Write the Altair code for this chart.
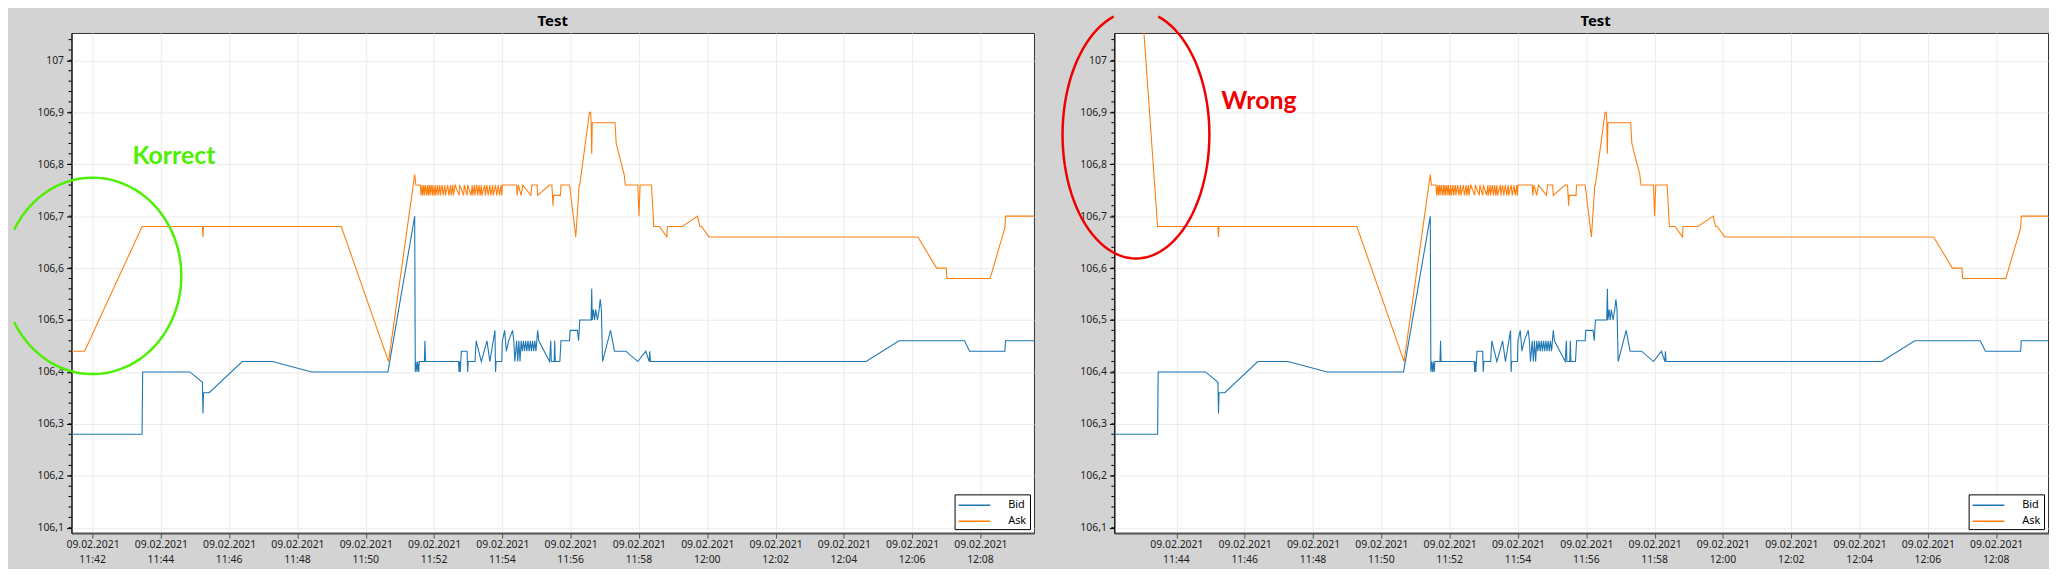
import math

import altair as alt
import pandas as pd

DAY = "2021-02-09T"

bid_time = [
    "11:41:23", "11:43:27", "11:43:28", "11:44:51", "11:45:13", "11:45:14", "11:45:15", "11:45:25",
    "11:46:23", "11:47:16", "11:48:25", "11:50:39", "11:51:26", "11:51:27", "11:51:28", "11:51:30",
    "11:51:31", "11:51:33", "11:51:34", "11:51:43", "11:51:44", "11:51:45", "11:52:43", "11:52:44",
    "11:52:45", "11:52:46", "11:52:47", "11:52:48", "11:52:58", "11:52:59", "11:53:00", "11:53:12",
    "11:53:14", "11:53:23", "11:53:33", "11:53:38", "11:53:47", "11:53:48", "11:53:49", "11:53:59",
    "11:54:00", "11:54:04", "11:54:07", "11:54:11", "11:54:18", "11:54:20", "11:54:22", "11:54:25",
    "11:54:27", "11:54:29", "11:54:31", "11:54:33", "11:54:35", "11:54:37", "11:54:39", "11:54:41",
    "11:54:43", "11:54:45", "11:54:47", "11:54:49", "11:54:51", "11:54:53", "11:54:55", "11:54:57",
    "11:54:59", "11:55:02", "11:55:04", "11:55:23", "11:55:25", "11:55:26", "11:55:31", "11:55:32",
    "11:55:33", "11:55:41", "11:55:43", "11:55:58", "11:55:59", "11:56:12", "11:56:14", "11:56:16",
    "11:56:36", "11:56:37", "11:56:38", "11:56:40", "11:56:42", "11:56:44", "11:56:47", "11:56:50",
    "11:56:52", "11:56:54", "11:56:56", "11:57:10", "11:57:17", "11:57:37", "11:57:58", "11:58:12",
    "11:58:18", "11:58:19", "11:58:20", "12:04:39", "12:05:37", "12:07:32", "12:07:41", "12:08:43",
    "12:08:44", "12:09:40",
]
bid_value = [
    106.28, 106.28, 106.40, 106.40, 106.38, 106.32, 106.36, 106.36,
    106.42, 106.42, 106.40, 106.40, 106.70, 106.40, 106.42, 106.40,
    106.42, 106.40, 106.42, 106.42, 106.46, 106.42, 106.42, 106.40,
    106.42, 106.40, 106.42, 106.44, 106.44, 106.40, 106.42, 106.42,
    106.46, 106.42, 106.46, 106.42, 106.48, 106.40, 106.42, 106.42,
    106.46, 106.48, 106.44, 106.46, 106.48, 106.46, 106.42, 106.46,
    106.42, 106.46, 106.42, 106.46, 106.44, 106.46, 106.44, 106.46,
    106.44, 106.46, 106.44, 106.46, 106.44, 106.46, 106.44, 106.46,
    106.44, 106.48, 106.46, 106.42, 106.46, 106.42, 106.42, 106.46,
    106.42, 106.42, 106.46, 106.46, 106.48, 106.48, 106.46, 106.50,
    106.50, 106.56, 106.50, 106.52, 106.50, 106.52, 106.50, 106.52,
    106.54, 106.52, 106.42, 106.48, 106.44, 106.44, 106.42, 106.44,
    106.42, 106.44, 106.42, 106.42, 106.46, 106.46, 106.44, 106.44,
    106.46, 106.46,
]

ask_time = [
    "11:41:23", "11:41:46", "11:43:27", "11:45:13", "11:45:14", "11:45:15", "11:49:17", "11:50:40",
    "11:51:26", "11:51:28", "11:51:36", "11:51:37", "11:51:39", "11:51:40", "11:51:42", "11:51:43",
    "11:51:45", "11:51:47", "11:51:49", "11:51:50", "11:51:52", "11:51:53", "11:51:55", "11:51:57",
    "11:51:58", "11:52:00", "11:52:02", "11:52:03", "11:52:06", "11:52:07", "11:52:10", "11:52:11",
    "11:52:14", "11:52:16", "11:52:19", "11:52:20", "11:52:24", "11:52:26", "11:52:29", "11:52:30",
    "11:52:33", "11:52:34", "11:52:37", "11:52:44", "11:52:45", "11:52:52", "11:52:53", "11:52:58",
    "11:52:59", "11:53:05", "11:53:07", "11:53:08", "11:53:11", "11:53:12", "11:53:15", "11:53:17",
    "11:53:19", "11:53:21", "11:53:23", "11:53:24", "11:53:29", "11:53:30", "11:53:33", "11:53:35",
    "11:53:38", "11:53:40", "11:53:43", "11:53:44", "11:53:48", "11:53:50", "11:53:53", "11:53:55",
    "11:53:58", "11:53:59", "11:54:00", "11:54:25", "11:54:26", "11:54:28", "11:54:33", "11:54:36",
    "11:54:50", "11:54:52", "11:55:01", "11:55:02", "11:55:23", "11:55:27", "11:55:28", "11:55:29",
    "11:55:30", "11:55:42", "11:55:43", "11:55:58", "11:56:09", "11:56:15", "11:56:16", "11:56:33",
    "11:56:35", "11:56:36", "11:56:37", "11:56:38", "11:57:18", "11:57:20", "11:57:34", "11:57:36",
    "11:57:58", "11:58:00", "11:58:02", "11:58:22", "11:58:26", "11:58:36", "11:58:49", "11:58:50",
    "11:59:16", "11:59:43", "11:59:47", "11:59:50", "12:00:03", "12:06:10", "12:06:43", "12:07:00",
    "12:07:01", "12:08:17", "12:08:43", "12:08:44", "12:09:40",
]
ask_value = [
    106.44, 106.44, 106.68, 106.68, 106.66, 106.68, 106.68, 106.42,
    106.78, 106.76, 106.76, 106.74, 106.76, 106.74, 106.76, 106.74,
    106.76, 106.74, 106.76, 106.74, 106.76, 106.74, 106.76, 106.74,
    106.76, 106.74, 106.76, 106.74, 106.76, 106.74, 106.76, 106.74,
    106.76, 106.74, 106.76, 106.74, 106.76, 106.74, 106.76, 106.74,
    106.76, 106.74, 106.76, 106.74, 106.76, 106.74, 106.76, 106.74,
    106.76, 106.74, 106.76, 106.74, 106.76, 106.74, 106.76, 106.74,
    106.76, 106.74, 106.76, 106.74, 106.76, 106.74, 106.76, 106.74,
    106.76, 106.74, 106.76, 106.74, 106.76, 106.74, 106.76, 106.74,
    106.76, 106.74, 106.76, 106.76, 106.74, 106.76, 106.74, 106.76,
    106.74, 106.76, 106.76, 106.74, 106.76, 106.76, 106.74, 106.72,
    106.74, 106.74, 106.76, 106.76, 106.66, 106.76, 106.76, 106.90,
    106.90, 106.88, 106.82, 106.88, 106.88, 106.84, 106.78, 106.76,
    106.76, 106.70, 106.76, 106.76, 106.68, 106.68, 106.66, 106.68,
    106.68, 106.70, 106.68, 106.68, 106.66, 106.66, 106.60, 106.60,
    106.58, 106.58, 106.678, 106.70, 106.70,
]

# "Wrong" panel: the first Ask quote is a stale high price outside the view
ask_wrong_head_time = ["11:41:46"]
ask_wrong_head_value = [108.25]

series_names = ["Bid", "Ask"]
series_colors = ["#1f77b4", "#ff7f0e"]

y_domain = [106.0897, 107.0527]
y_major_ticks = [106.1, 106.2, 106.3, 106.4, 106.5, 106.6, 106.7, 106.8, 106.9, 107.0]
y_minor_ticks = [round(106.1 + 0.02 * i, 2) for i in range(48)]

left_domain = ["11:41:23", "12:09:34"]
right_domain = ["11:42:11", "12:09:31"]
left_tick_times = ["11:42", "11:44", "11:46", "11:48", "11:50", "11:52", "11:54",
                   "11:56", "11:58", "12:00", "12:02", "12:04", "12:06", "12:08"]
right_tick_times = left_tick_times[1:]

panel_title = ["Test"]

korrect_ellipse_time = ["11:42:00"]
korrect_ellipse_value = [106.585]
korrect_text_time = ["11:44:23"]
korrect_text_value = [106.815]
korrect_label = ["Korrect"]

wrong_ellipse_time = ["11:42:49"]
wrong_ellipse_value = [106.857]
wrong_text_time = ["11:46:25"]
wrong_text_value = [106.922]
wrong_label = ["Wrong"]

PLOT_H = 504
FONT = "Noto Sans"


def ts(s):
    if len(s) == 5:
        s = s + ":00"
    return DAY + s + "Z"


def ms(s):
    return int(pd.Timestamp(ts(s)).value // 10**6)


def series_frame(times, values, name):
    return pd.DataFrame({"t": [ts(s) for s in times], "v": values, "series": name})


def ellipse_outline(rx, ry, a_start, a_end, steps=90):
    """Open outline of a hand-drawn ellipse (pixels / 100, for a symbol of size 40000)."""
    pts = []
    for i in range(steps + 1):
        a = a_start + (a_end - a_start) * i / steps
        pts.append((rx * math.cos(a) / 100, ry * math.sin(a) / 100))
    return "M " + " L ".join(f"{px:.4f} {py:.4f}" for px, py in pts)


df_left = pd.concat([
    series_frame(bid_time, bid_value, "Bid"),
    series_frame(ask_time, ask_value, "Ask"),
], ignore_index=True)

df_right = pd.concat([
    series_frame(bid_time, bid_value, "Bid"),
    series_frame(ask_wrong_head_time + ask_time[2:], ask_wrong_head_value + ask_value[2:], "Ask"),
], ignore_index=True)

df_minor = pd.DataFrame({"v": y_minor_ticks})


def panel(df, domain, ticks, width, ell_t, ell_v, ell_shape, txt_t, txt_v, label, color, title_x):
    x = alt.X(
        "t:T",
        scale=alt.Scale(type="utc", domain=[ms(domain[0]), ms(domain[1])], nice=False),
        axis=alt.Axis(
            title=None,
            values=[ms(s) for s in ticks],
            labelExpr="utcFormat(datum.value, '%d.%m.%Y')",
            labelFont=FONT,
            labelFontSize=10.5,
            labelColor="#1e1e1e",
            labelPadding=2,
            labelOverlap=False,
            labelFlush=False,
            tickSize=5,
            tickColor="#555555",
            domainColor="#555555",
            domainWidth=2,
            grid=True,
            gridColor="#ebebeb",
        ),
    )
    y = alt.Y(
        "v:Q",
        scale=alt.Scale(domain=y_domain, nice=False, zero=False),
        axis=alt.Axis(
            title=None,
            values=y_major_ticks,
            labelExpr="replace(format(datum.value, '.4~g'), '.', ',')",
            labelFont=FONT,
            labelFontSize=10.5,
            labelColor="#1e1e1e",
            labelOverlap=False,
            labelPadding=3,
            tickSize=5,
            tickColor="#000000",
            domainColor="#000000",
            grid=True,
            gridColor="#ebebeb",
            minExtent=60,
            maxExtent=60,
        ),
    )
    lines = alt.Chart(df).mark_line(strokeWidth=1.1, clip=True).encode(
        x=x,
        y=y,
        color=alt.Color(
            "series:N",
            scale=alt.Scale(domain=series_names, range=series_colors),
            legend=alt.Legend(
                title=None,
                orient="bottom-right",
                offset=4,
                symbolType="M -2.286 0 H 2.286",
                symbolSize=196,
                symbolStrokeWidth=1.5,
                symbolOffset=9,
                labelFont=FONT,
                labelFontSize=11,
                labelColor="#000000",
                fillColor="white",
                strokeColor="black",
                padding=3,
                rowPadding=3,
                labelOffset=26,
                cornerRadius=0,
            ),
        ),
    )
    minor = alt.Chart(df_minor).mark_rule(color="black", strokeWidth=1).encode(
        y=y, x=alt.value(-3), x2=alt.value(0)
    )
    tick_df = pd.DataFrame({"t": [ts(s) for s in ticks], "label": ticks})
    time_labels = alt.Chart(tick_df).mark_text(
        font=FONT, fontSize=10.5, color="#1e1e1e", baseline="middle", align="center"
    ).encode(x=x, y=alt.value(PLOT_H + 27.5), text="label:N")
    title_df = pd.DataFrame({"label": panel_title})
    title = alt.Chart(title_df).mark_text(
        font=FONT, fontSize=15, fontWeight="bold", color="black", baseline="top", align="center"
    ).encode(x=alt.value(title_x), y=alt.value(-18.7), text="label:N")
    ell_df = pd.DataFrame({"t": [ts(s) for s in ell_t], "v": ell_v})
    ellipse = alt.Chart(ell_df).mark_point(
        shape=ell_shape, size=40000, filled=False, stroke=color, strokeWidth=2.5, opacity=1
    ).encode(x=x, y=y)
    txt_df = pd.DataFrame({"t": [ts(s) for s in txt_t], "v": txt_v, "label": label})
    text = alt.Chart(txt_df).mark_text(
        font="Lato", fontSize=25, fontWeight="bold", color=color, align="center", baseline="middle"
    ).encode(x=x, y=y, text="label:N")
    return alt.layer(lines, minor, time_labels, title, ellipse, text).properties(
        width=width,
        height=PLOT_H,
    )


# green ellipse: rx 89.5, ry 99, cut where it leaves the page on the left
g_cut = math.acos(79 / 89.5)
green_shape = ellipse_outline(89.5, 99, -(math.pi - g_cut), math.pi - g_cut)
# red ellipse: rx 74, ry 124.9, cut where it leaves the page at the top
r_cut = math.acos(119 / 124.9)
red_shape = ellipse_outline(74, 124.9, -math.pi / 2 + r_cut, 1.5 * math.pi - r_cut)

left = panel(df_left, left_domain, left_tick_times, 970, korrect_ellipse_time, korrect_ellipse_value,
             green_shape, korrect_text_time, korrect_text_value, korrect_label, "#4cf000", 485)
right = panel(df_right, right_domain, right_tick_times, 941, wrong_ellipse_time, wrong_ellipse_value,
              red_shape, wrong_text_time, wrong_text_value, wrong_label, "#f00000", 485)

chart = (
    alt.hconcat(left, right, spacing=19)
    .resolve_scale(x="independent", y="independent", color="independent")
    .resolve_legend(color="independent")
    .configure(background="#d3d3d3")
    .configure_view(stroke="#333333", strokeWidth=1, fill="white")
    .properties(padding=0)
)

chart.save("out.html", embed_options={"renderer": "svg", "actions": False})
